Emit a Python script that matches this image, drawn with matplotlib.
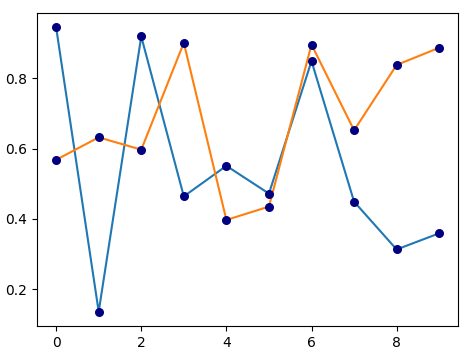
import matplotlib
matplotlib.use('Agg')
import matplotlib.pyplot as plt

# значения
x = list(range(10))
blue = [0.945, 0.136, 0.919, 0.464, 0.551, 0.472, 0.849, 0.449, 0.313, 0.359]
orange = [0.568, 0.632, 0.597, 0.901, 0.397, 0.435, 0.896, 0.652, 0.838, 0.887]

fig, ax = plt.subplots(figsize=(4.74, 3.55), dpi=100)
ax.plot(x, blue)
ax.plot(x, orange)
ax.scatter(x, blue, color='navy', s=30, zorder=3)
ax.scatter(x, orange, color='navy', s=30, zorder=3)
ax.set_xticks([0, 2, 4, 6, 8])
ax.set_yticks([0.2, 0.4, 0.6, 0.8])
fig.subplots_adjust(left=0.078, right=0.967, top=0.963, bottom=0.082)
fig.savefig('out.png')
